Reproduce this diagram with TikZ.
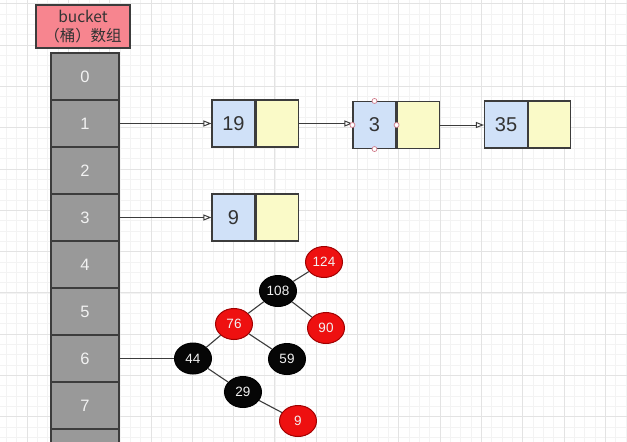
\documentclass[tikz,border=0pt]{standalone}
\usepackage{fontspec}
\setmainfont{Liberation Sans}
\newfontfamily\cjkfont{Noto Sans CJK SC}
\usetikzlibrary{arrows.meta,shapes.geometric}
\definecolor{gridminor}{HTML}{F3F3F3}
\definecolor{gridmajor}{HTML}{E3E3E3}
\definecolor{cellgray}{HTML}{999999}
\definecolor{celltext}{HTML}{F2F2F2}
\definecolor{edgecol}{HTML}{3C3C3C}
\definecolor{pinkfill}{HTML}{F7858F}
\definecolor{bluefill}{HTML}{D0E1F8}
\definecolor{yellowfill}{HTML}{FAFAC8}
\definecolor{rbred}{HTML}{EE1010}
\definecolor{rbredline}{HTML}{A00000}
\definecolor{rbblack}{HTML}{060606}
\definecolor{handlecol}{HTML}{D07A8A}
\definecolor{darktext}{HTML}{333333}
\tikzset{
  labelbox/.style={draw=edgecol, line width=1.1pt, fill=pinkfill, minimum width=94pt, minimum height=43pt,
    inner sep=0pt, align=center, font=\cjkfont\fontsize{15.5}{19}\selectfont, text=darktext},
  cell/.style={draw=edgecol, line width=1.2pt, fill=cellgray, minimum width=68pt, minimum height=47pt,
    inner sep=0pt, font=\fontsize{16.5}{16.5}\selectfont, text=celltext},
  keybox/.style={draw=edgecol, line width=1.1pt, fill=bluefill, minimum width=43pt, minimum height=47pt,
    inner sep=0pt, font=\fontsize{20}{20}\selectfont, text=darktext},
  nextbox/.style={draw=edgecol, line width=1.1pt, fill=yellowfill, minimum width=42pt, minimum height=47pt,
    inner sep=0pt, anchor=west},
  link/.style={draw=edgecol, line width=1pt, -{Triangle[open,length=8pt,width=6pt]}},
  handle/.style={circle, draw=handlecol, fill=white, line width=0.7pt, minimum size=5pt, inner sep=0pt},
  rbnode/.style={ellipse, line width=1pt, minimum width=37pt, minimum height=31pt, inner sep=0pt,
    font=\fontsize{13.5}{13.5}\selectfont, text=celltext},
  rbr/.style={rbnode, draw=rbredline, fill=rbred},
  rbb/.style={rbnode, draw=black, fill=rbblack},
  tedge/.style={draw=edgecol, line width=1.1pt},
  minorline/.style={draw=gridminor, line width=0.6pt},
  majorline/.style={draw=gridmajor, line width=0.8pt}
}
\begin{document}
\begin{tikzpicture}[x=1pt,y=-1pt]
\useasboundingbox (0,0) rectangle (627,442);
\clip (0,0) rectangle (627,442);
\fill[white] (0,0) rectangle (627,442);
% grid
\foreach \i in {0,...,63} {
  \draw[minorline] ({-14.3+\i*10.325},0) -- ++(0,442);
}
\foreach \i in {0,...,44} {
  \draw[minorline] (0,{3.7+\i*10.325}) -- ++(627,0);
}
\foreach \i in {0,...,16} {
  \draw[majorline] ({-14.3+\i*41.3},0) -- ++(0,442);
}
\foreach \i in {0,...,11} {
  \draw[majorline] (0,{3.7+\i*41.3}) -- ++(627,0);
}
% bucket label
\node[labelbox] (bucket) at (83,26.5) {bucket\\（桶）数组};
% array cells
\foreach \i in {0,...,7} {
  \node[cell] (c\i) at (85,{76.5+\i*47}) {\i};
}
\node[cell] (c8) at (85,{76.5+8*47}) {};
% linked list nodes
\node[keybox] (k19) at (233.5,123.5) {19};
\node[nextbox] (p19) at (k19.east) {};
\node[keybox] (k3) at (374.5,125) {3};
\node[nextbox] (p3) at (k3.east) {};
\node[keybox] (k35) at (506,124.5) {35};
\node[nextbox] (p35) at (k35.east) {};
\node[keybox] (k9) at (233.5,217.5) {9};
\node[nextbox] (p9) at (k9.east) {};
% links
\draw[link] (c1.east) -- (k19.west |- c1.east);
\draw[link] (p19.east) -- (k3.west |- p19.east);
\draw[link] (p3.east) -- (k35.west |- p3.east);
\draw[link] (c3.east) -- (k9.west);
% selection handles
\node[handle] (h1) at (k3.west) {};
\node[handle] (h2) at (k3.east) {};
\node[handle] (h3) at (k3.north) {};
\node[handle] (h4) at (k3.south) {};
% red-black tree
\node[rbr] (t124) at (324,262) {124};
\node[rbb] (t108) at (278,291) {108};
\node[rbr] (t76) at (234,324) {76};
\node[rbr] (t90) at (326,328) {90};
\node[rbb] (t44) at (193,358.5) {44};
\node[rbb] (t59) at (287,359) {59};
\node[rbb] (t29) at (243,392) {29};
\node[rbr] (t9) at (298,421) {9};
\draw[tedge] (c6.east) -- (t44.west);
\draw[tedge] (t108) -- (t124);
\draw[tedge] (t108) -- (t76);
\draw[tedge] (t108) -- (t90);
\draw[tedge] (t76) -- (t44);
\draw[tedge] (t76) -- (t59);
\draw[tedge] (t44) -- (t29);
\draw[tedge] (t29) -- (t9);
\end{tikzpicture}
\end{document}
